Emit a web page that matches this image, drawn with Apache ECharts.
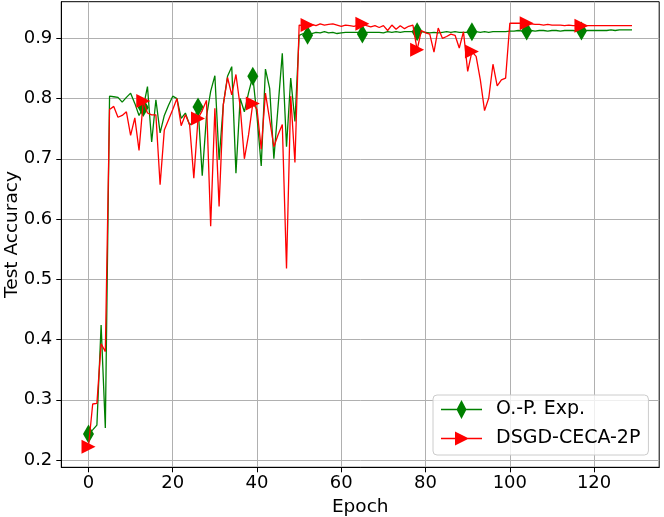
<!DOCTYPE html>
<html>
<head>
<meta charset="utf-8">
<script src="https://cdn.jsdelivr.net/npm/echarts@6/dist/echarts.min.js"></script>
<style>
html,body{margin:0;padding:0;background:#fff;}
#chart{width:664px;height:517px;}
</style>
</head>
<body>
<div id="chart"></div>
<script>
// ---- data ----
const seriesNames = ['O.-P. Exp.', 'DSGD-CECA-2P'];
const xTicks = [0, 20, 40, 60, 80, 100, 120];
const yTicks = [0.2, 0.3, 0.4, 0.5, 0.6, 0.7, 0.8, 0.9];
const markEvery = 13;

const opExp = [
  0.243, 0.250, 0.258, 0.424, 0.253, 0.804, 0.803, 0.802, 0.794, 0.802,
  0.809, 0.792, 0.772, 0.785, 0.820, 0.728, 0.798, 0.743, 0.772, 0.789,
  0.804, 0.800, 0.767, 0.776, 0.756, 0.762, 0.786, 0.672, 0.770, 0.812,
  0.838, 0.698, 0.790, 0.837, 0.853, 0.676, 0.800, 0.778, 0.810, 0.837,
  0.770, 0.688, 0.849, 0.817, 0.700, 0.787, 0.875, 0.720, 0.834, 0.762,
  0.905, 0.908, 0.905, 0.908, 0.910, 0.909, 0.911, 0.909, 0.910, 0.908,
  0.909, 0.910, 0.910, 0.910, 0.910, 0.907, 0.910, 0.910, 0.910, 0.910,
  0.909, 0.911, 0.910, 0.911, 0.910, 0.911, 0.911, 0.911, 0.911, 0.911,
  0.910, 0.909, 0.910, 0.909, 0.910, 0.911, 0.910, 0.911, 0.910, 0.910,
  0.910, 0.911, 0.911, 0.910, 0.911, 0.910, 0.911, 0.911, 0.911, 0.911,
  0.912, 0.912, 0.913, 0.912, 0.912, 0.913, 0.912, 0.913, 0.913, 0.912,
  0.913, 0.913, 0.912, 0.913, 0.913, 0.913, 0.912, 0.912, 0.913, 0.913,
  0.913, 0.913, 0.913, 0.913, 0.914, 0.913, 0.914, 0.914, 0.914, 0.914
];

const ceca2p = [
  0.222, 0.293, 0.294, 0.393, 0.380, 0.782, 0.787, 0.769, 0.772, 0.778,
  0.739, 0.768, 0.714, 0.796, 0.776, 0.773, 0.773, 0.657, 0.748, 0.765,
  0.782, 0.800, 0.755, 0.773, 0.757, 0.668, 0.767, 0.780, 0.797, 0.588,
  0.784, 0.621, 0.790, 0.835, 0.806, 0.840, 0.787, 0.700, 0.740, 0.792,
  0.782, 0.716, 0.809, 0.765, 0.720, 0.740, 0.757, 0.518, 0.804, 0.694,
  0.922, 0.921, 0.922, 0.923, 0.921, 0.924, 0.922, 0.923, 0.924, 0.922,
  0.920, 0.922, 0.921, 0.920, 0.922, 0.924, 0.921, 0.919, 0.921, 0.918,
  0.921, 0.913, 0.922, 0.915, 0.921, 0.916, 0.920, 0.922, 0.881, 0.913,
  0.909, 0.907, 0.877, 0.917, 0.900, 0.903, 0.907, 0.905, 0.884, 0.911,
  0.845, 0.878, 0.870, 0.831, 0.780, 0.801, 0.857, 0.821, 0.831, 0.834,
  0.925, 0.925, 0.925, 0.925, 0.925, 0.924, 0.923, 0.923, 0.922, 0.923,
  0.922, 0.922, 0.922, 0.921, 0.922, 0.921, 0.921, 0.921, 0.921, 0.921,
  0.921, 0.921, 0.921, 0.921, 0.921, 0.921, 0.921, 0.921, 0.921, 0.921
];

// ---- chart ----
const FONT = 'DejaVu Sans';
const diamondSym = 'path://M5.5,0 L11,9.5 L5.5,19 L0,9.5 Z';
const triSym = 'path://M0,0 L14,7 L0,14 Z';
const diamondIcon = 'path://M0,8.8 L41,8.8 L41,10.2 L0,10.2 Z M20.5,0 L25.5,9.5 L20.5,19 L15.5,9.5 Z';
const triIcon = 'path://M0,0 L0.01,0 L0.01,0.01 Z M0,18.99 L0.01,18.99 L0.01,19 Z M0,8.8 L41,8.8 L41,10.2 L0,10.2 Z M14,2.5 L28,9.5 L14,16.5 Z';

function buildData(arr, sym, size) {
  return arr.map((v, i) => (i % markEvery === 0)
    ? { value: [i, v], symbol: sym, symbolSize: size }
    : { value: [i, v], symbol: 'none' });
}

const chart = echarts.init(document.getElementById('chart'), null, { renderer: 'canvas' });
const option = {
  animation: false,
  backgroundColor: '#ffffff',
  grid: {
    left: 61.3, top: 1.7, right: 4.8, bottom: 49.7,
    containLabel: false, outerBoundsMode: 'none',
    show: true, borderColor: '#000', borderWidth: 1, backgroundColor: 'transparent'
  },
  legend: {
    orient: 'vertical',
    left: 433, top: 395,
    padding: [5, 8, 7, 8],
    itemWidth: 41, itemHeight: 19, itemGap: 10,
    backgroundColor: 'rgba(255,255,255,0.8)',
    borderColor: '#cccccc', borderWidth: 1, borderRadius: 4,
    textStyle: { fontFamily: FONT, fontSize: 19, color: '#000', padding: [0, 0, 0, 9] },
    data: [
      { name: seriesNames[0], icon: diamondIcon },
      { name: seriesNames[1], icon: triIcon }
    ]
  },
  xAxis: {
    type: 'value', min: -6.45, max: 135.45,
    name: 'Epoch', nameLocation: 'middle', nameGap: 29,
    nameTextStyle: { fontFamily: FONT, fontSize: 18.5, color: '#000' },
    axisLine: { show: true, onZero: false, lineStyle: { color: '#000', width: 1 } },
    axisTick: { show: true, inside: false, length: 5, customValues: xTicks, lineStyle: { color: '#000', width: 1 } },
    axisLabel: { show: true, margin: 7.5, customValues: xTicks, fontFamily: FONT, fontSize: 18, color: '#000' },
    splitLine: { show: true, lineStyle: { color: '#b0b0b0', width: 1 } }
  },
  yAxis: {
    type: 'value', min: 0.1879, max: 0.9608,
    name: 'Test Accuracy', nameLocation: 'middle', nameGap: 40, nameMoveOverlap: false,
    nameTextStyle: { fontFamily: FONT, fontSize: 18.5, color: '#000' },
    axisLine: { show: true, onZero: false, lineStyle: { color: '#000', width: 1 } },
    axisTick: { show: true, inside: false, length: 5, customValues: yTicks, lineStyle: { color: '#000', width: 1 } },
    axisLabel: { show: true, margin: 9, customValues: yTicks, fontFamily: FONT, fontSize: 18, color: '#000',
      formatter: v => v.toFixed(1) },
    splitLine: { show: true, lineStyle: { color: '#b0b0b0', width: 1 } }
  },
  series: [
    {
      name: seriesNames[0], type: 'line', color: '#008000',
      data: buildData(opExp, diamondSym, [11, 19]),
      symbol: 'none', showSymbol: true, showAllSymbol: true,
      lineStyle: { width: 1.3, color: '#008000' },
      itemStyle: { color: '#008000' },
      emphasis: { disabled: true }, z: 2
    },
    {
      name: seriesNames[1], type: 'line', color: '#ff0000',
      data: buildData(ceca2p, triSym, [14, 14]),
      symbol: 'none', showSymbol: true, showAllSymbol: true,
      lineStyle: { width: 1.3, color: '#ff0000' },
      itemStyle: { color: '#ff0000' },
      emphasis: { disabled: true }, z: 3
    }
  ]
};
chart.setOption(option);
</script>
</body>
</html>
